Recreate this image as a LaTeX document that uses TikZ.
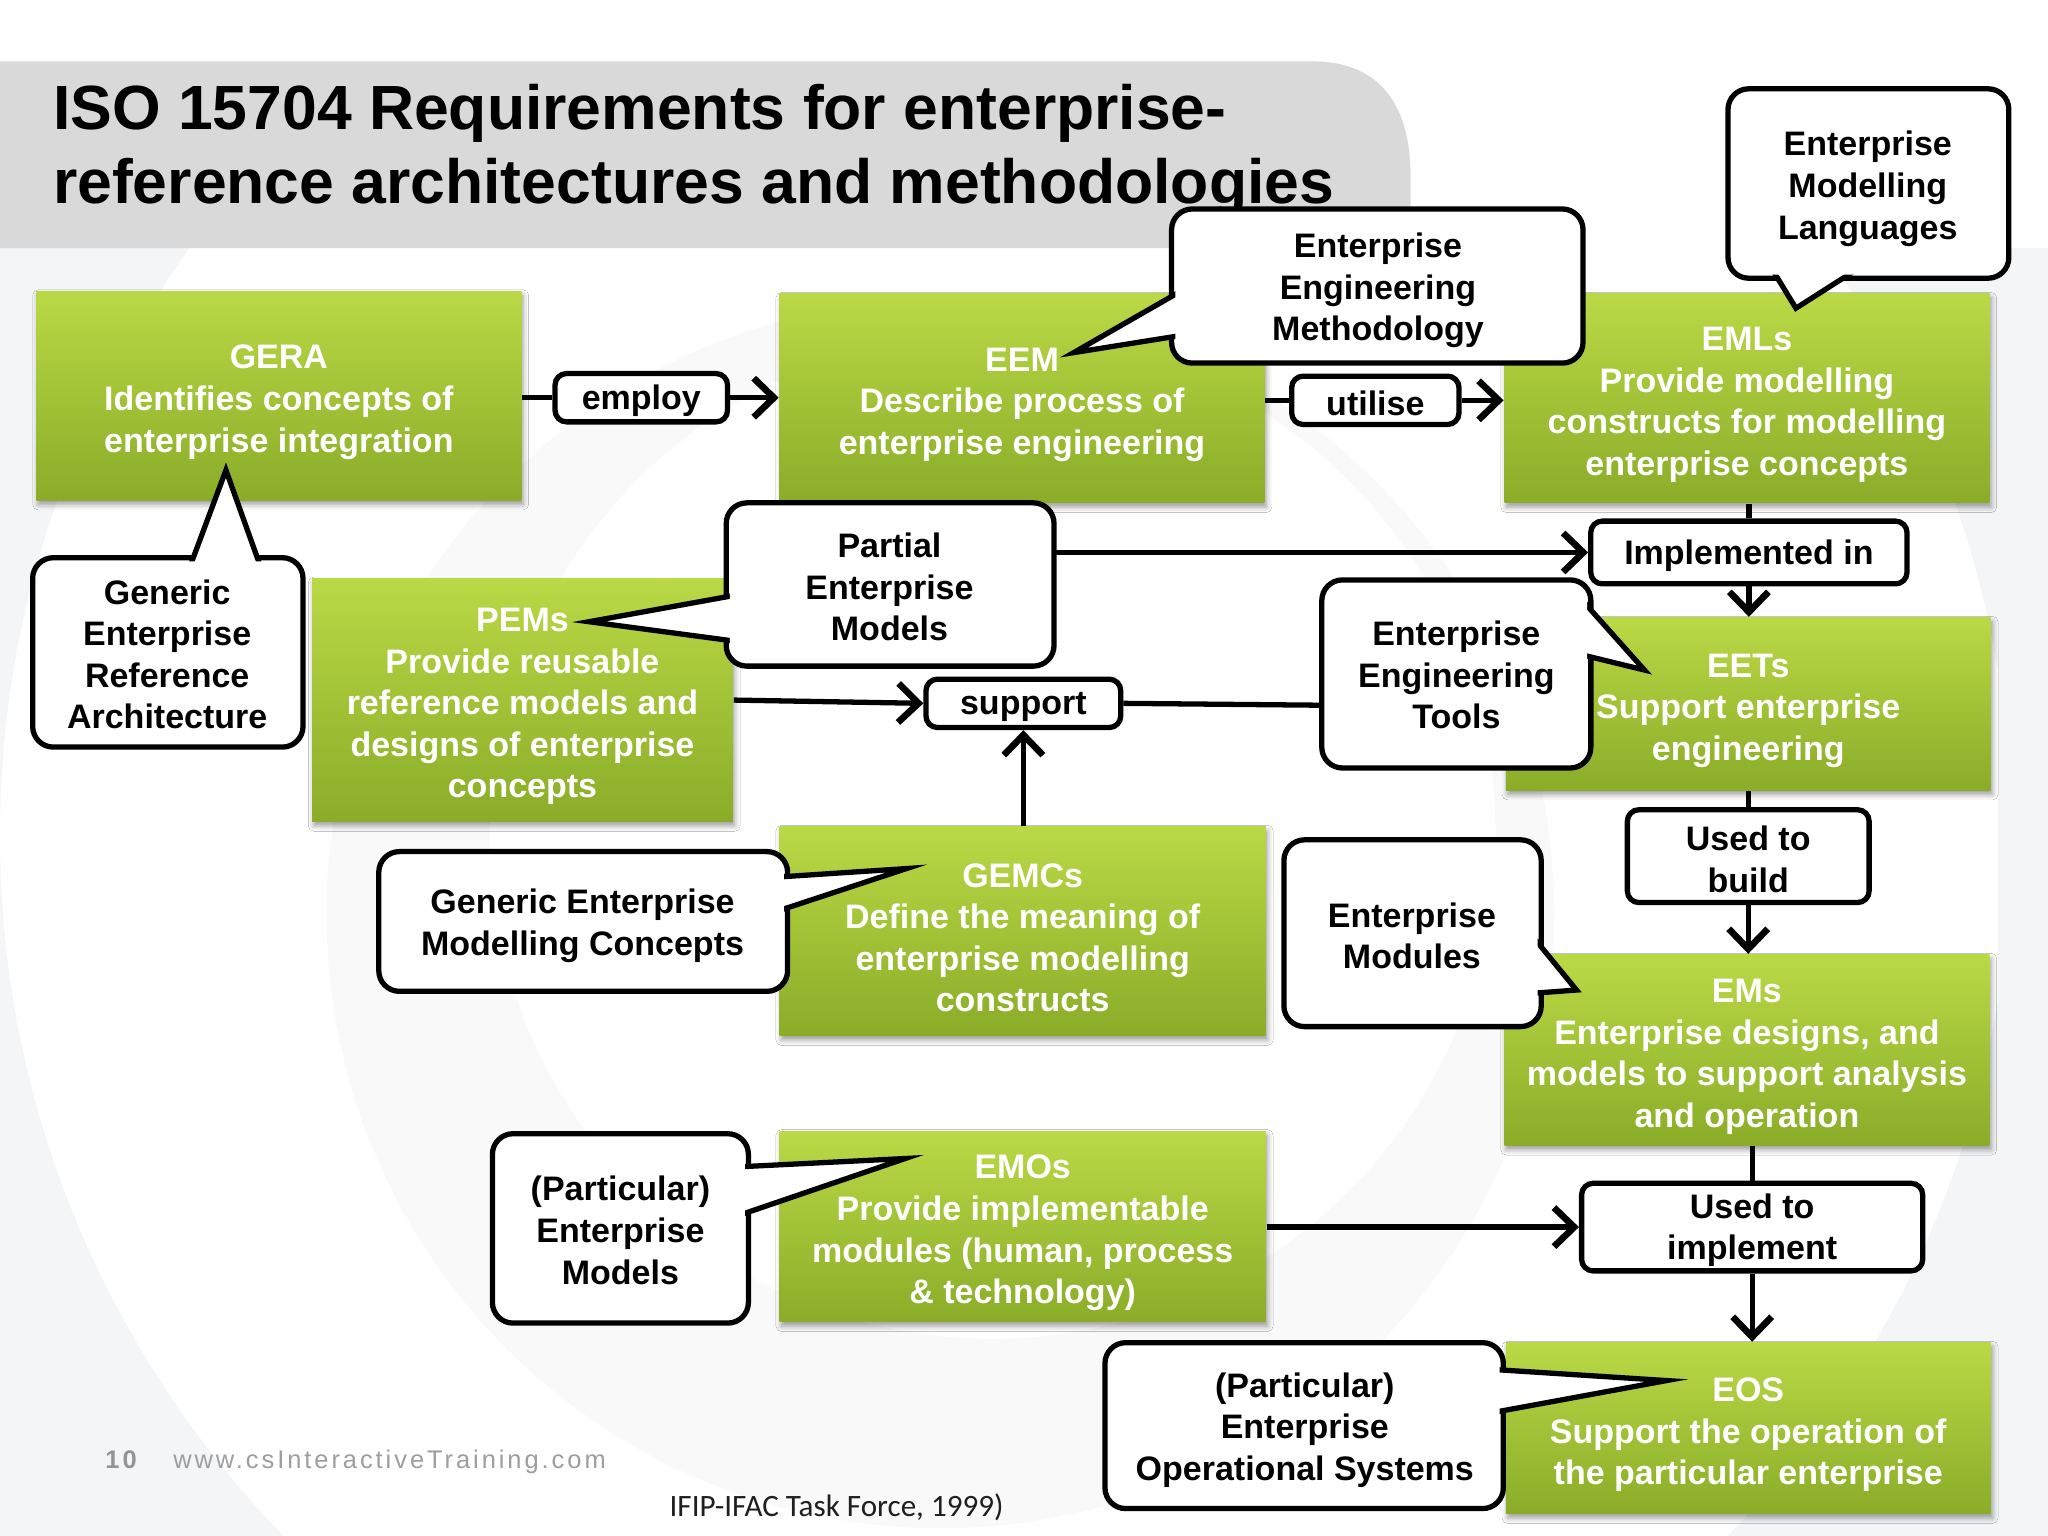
\documentclass[tikz,border=0pt]{standalone}
\usepackage{fontspec}
\setmainfont{Liberation Sans}
\newfontfamily\calfont{Carlito}
\usetikzlibrary{arrows.meta,calc,shadows.blur}
\definecolor{gtop}{RGB}{186,217,70}
\definecolor{gbot}{RGB}{138,172,40}
\definecolor{titlegray}{RGB}{217,217,217}
\definecolor{bgray}{RGB}{244,245,247}
\definecolor{bring}{RGB}{249,249,250}
\newcommand\callout[7]{%
  \draw[cbord, fill=white, rounded corners=4.5pt] (#1,#2) rectangle (#3,#4);
  \draw[cbord, fill=white] ($(#6)!1.2!(#5)$) -- (#6) -- ($(#6)!1.2!(#7)$);
  \fill[white, rounded corners=4pt] ($(#1,#2)+(2.8,2.8)$) rectangle ($(#3,#4)-(2.8,2.8)$);
}
% green box: name, x, y, w, h, text
\newcommand\gbx[6]{%
  \node[gbox, sz={#4}{#5}] (#1) at (#2,#3) {};
  \node[txt, text=white] (#1t) at ($(#1)+(0,5)$) {#6};
}
% label box: name, x, y, w, h, text
\newcommand\lbx[6]{%
  \node[lbox, sz={#4}{#5}] (#1) at (#2,#3) {};
  \node[txt] (#1t) at ($(#1)+(0,2.5)$) {#6};
}
\begin{document}
\begin{tikzpicture}[x=0.01cm,y=-0.01cm,
  sz/.style 2 args={minimum width={#1*0.284528pt}, minimum height={#2*0.284528pt}},
  txt/.style={font=\fontsize{7.4pt}{9.05pt}\selectfont\bfseries, align=center, inner sep=0pt},
  gbox/.style={inner sep=0pt, top color=gtop, bottom color=gbot, draw=none,
    blur shadow={shadow xshift=0.4pt, shadow yshift=-0.9pt, shadow blur radius=1.2pt, shadow opacity=40}},
  lbox/.style={inner sep=0pt, draw=black, line width=1.15pt, fill=white, rounded corners=2.5pt},
  conn/.style={line width=1.15pt, draw=black},
  arr/.style={conn, -{Straight Barb[length=4.4pt,width=8.5pt,line width=1.45pt]}},
  cbord/.style={draw=black, line width=1.15pt, line join=miter},
]
\useasboundingbox (0,0) rectangle (1568,1176);
% background
\fill[white] (0,0) rectangle (1568,1176);
\begin{scope}
  \clip (0,190) rectangle (1568,1176);
  \fill[bgray] (0,190) rectangle (1568,1176);
  \fill[white] (770,640) circle[radius=770];
  \fill[bring] (720,700) circle[radius=470];
  \fill[white] (760,640) circle[radius=385];
  \fill[bgray] (1530,215) rectangle (1568,1176);
\end{scope}
% title banner
\fill[titlegray] (0,47) -- (1005,47) .. controls (1060,47) and (1080,85) .. (1080,135) -- (1080,190) -- (0,190) -- cycle;
\node[anchor=base west, inner sep=0pt, font=\fontsize{13.6pt}{16pt}\selectfont\bfseries] (title1) at (40,99) {ISO 15704 Requirements for enterprise-};
\node[anchor=base west, inner sep=0pt, font=\fontsize{13.6pt}{16pt}\selectfont\bfseries] (title2) at (40,156) {reference architectures and methodologies};
% green boxes
\gbx{gera}{213.5}{303}{371}{160}{GERA\\Identifies concepts of\\enterprise integration}
\gbx{eem}{782.5}{305}{371}{160}{EEM\\Describe process of\\enterprise engineering}
\gbx{emls}{1337.5}{305}{371}{160}{EMLs\\Provide modelling\\constructs for modelling\\enterprise concepts}
\gbx{pems}{400}{536}{322}{186}{PEMs\\Provide reusable\\reference models and\\designs of enterprise\\concepts}
\gbx{eets}{1338.5}{539}{371}{132}{EETs\\Support enterprise\\engineering}
\gbx{gemcs}{783}{713}{372}{160}{GEMCs\\Define the meaning of\\enterprise modelling\\constructs}
\gbx{ems}{1337.5}{804}{371}{146}{EMs\\Enterprise designs, and\\models to support analysis\\and operation}
\gbx{emos}{783}{939}{372}{146}{EMOs\\Provide implementable\\modules (human, process\\\& technology)}
\gbx{eos}{1338.5}{1093.5}{371}{131}{EOS\\Support the operation of\\the particular enterprise}
% label boxes
\lbx{employ}{491}{304.5}{132}{37}{employ}
\lbx{utilise}{1053}{306.5}{128}{37}{utilise}
\lbx{impl}{1339}{423}{242}{48}{Implemented in}
\lbx{support}{783.5}{538.5}{149}{37}{support}
\lbx{usedbuild}{1338.5}{655.5}{185}{71}{Used to\\build}
\lbx{usedimpl}{1341.5}{939.5}{261}{67}{Used to\\implement}
% connector end points on callouts
\coordinate (cpemR) at (800,423);
\coordinate (ceetL) at (1018,540);
% connectors
\draw[conn] (employ.west) -- (employ.west -| gera.east);
\draw[arr] (employ.east) -- (employ.east -| eem.west);
\draw[conn] (utilise.west) -- (utilise.west -| eem.east);
\draw[arr] (utilise.east) -- (utilise.east -| emls.west);
\draw[conn] (impl.north |- emls.south) -- (impl.north);
\draw[arr] (cpemR) -- (impl.west);
\draw[arr] (impl.south) -- (impl.south |- eets.north);
\draw[arr] (pems.east) -- (support.west);
\draw[conn] (support.east) -- (ceetL);
\draw[arr] (support.south |- gemcs.north) -- (support.south);
\draw[conn] (usedbuild.north |- eets.south) -- (usedbuild.north);
\draw[arr] (usedbuild.south) -- (usedbuild.south |- ems.north);
\draw[conn] (usedimpl.north |- ems.south) -- (usedimpl.north);
\draw[arr] (emos.east |- usedimpl.west) -- (usedimpl.west);
\draw[arr] (usedimpl.south) -- (usedimpl.south |- eos.north);
% callouts
\callout{897}{160}{1212}{278}{897,227}{822,270}{897,258}
\callout{1323}{68}{1538}{213}{1361,213}{1375,236}{1411,213}
\callout{25}{427}{232}{572}{148,427}{173,360}{197,427}
\callout{556}{385}{807}{510}{556,457}{451,476}{556,490}
\callout{1012}{444}{1218}{588}{1218,467}{1259,513}{1218,503}
\callout{983}{643}{1180}{786}{1180,725}{1207,758}{1180,760}
\callout{290}{652}{603}{759}{603,671}{694,665}{603,695}
\callout{377}{868}{573}{1013}{573,893}{693,887}{573,928}
\callout{846}{1028}{1151}{1155}{1151,1049}{1276,1057}{1151,1080}
\node[txt] (tEEM) at (1055,222.5) {Enterprise\\Engineering\\Methodology};
\node[txt] (tEML) at (1430,144.5) {Enterprise\\Modelling\\Languages};
\node[txt] (tGERA) at (128,501) {Generic\\Enterprise\\Reference\\Architecture};
\node[txt] (tPEM) at (681,449.5) {Partial\\Enterprise\\Models};
\node[txt] (tEET) at (1115,517) {Enterprise\\Engineering\\Tools};
\node[txt] (tEMod) at (1081,716.5) {Enterprise\\Modules};
\node[txt] (tGEMC) at (446,709) {Generic Enterprise\\Modelling Concepts};
\node[txt] (tPartEM) at (475,942) {(Particular)\\Enterprise\\Models};
\node[txt] (tPEOS) at (999,1095) {(Particular)\\Enterprise\\Operational Systems};
% footer
\node[anchor=base west, inner sep=0pt, text=black!42, font=\fontsize{5.55pt}{6pt}\selectfont\bfseries\addfontfeatures{LetterSpace=12}] (pgnum) at (80,1124) {10};
\node[anchor=base west, inner sep=0pt, text=black!38, font=\fontsize{5.55pt}{6pt}\selectfont\addfontfeatures{LetterSpace=11.5}] (site) at (132,1124) {www.csInteractiveTraining.com};
\node[anchor=base west, inner sep=0pt, text=black!88, font=\calfont\fontsize{6.77pt}{8pt}\selectfont] (src) at (512,1161) {IFIP-IFAC Task Force, 1999)};
\end{tikzpicture}
\end{document}
